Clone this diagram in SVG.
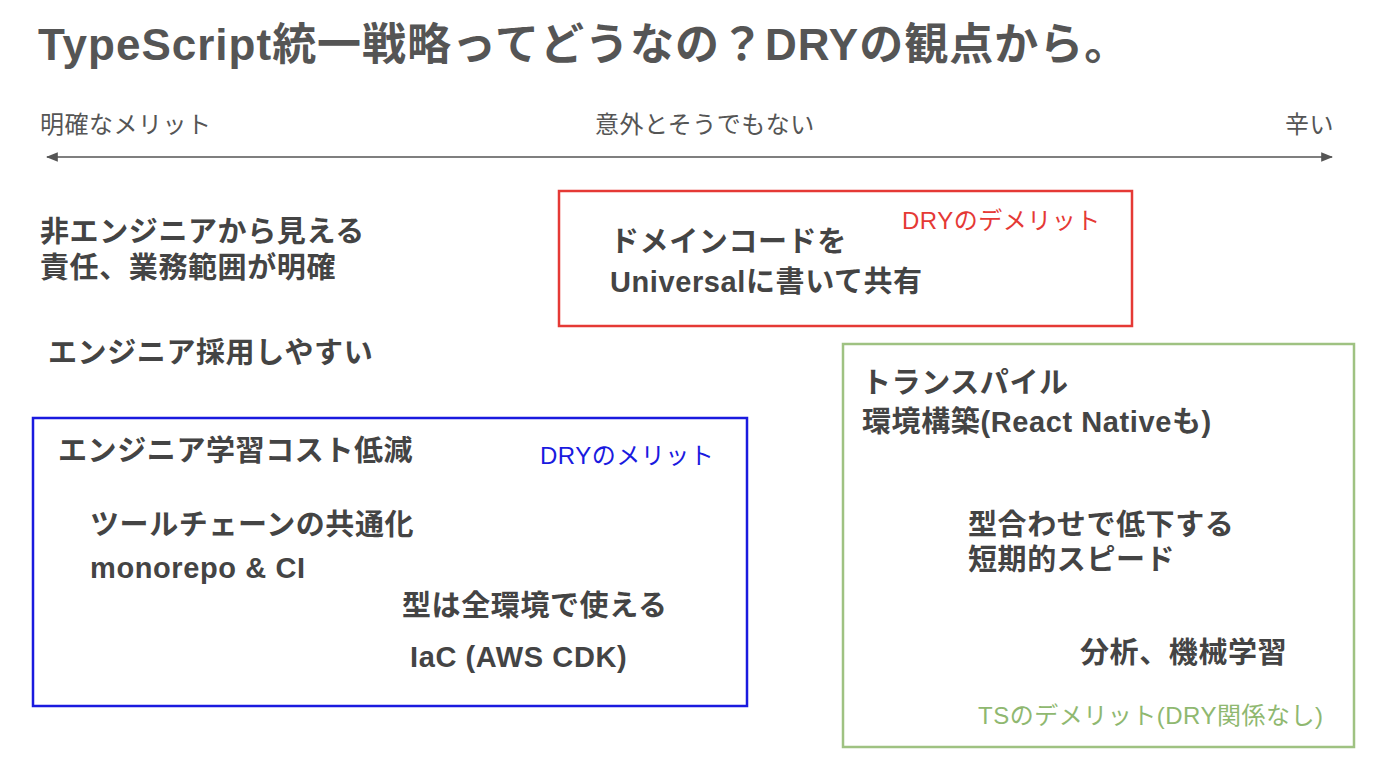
<svg xmlns="http://www.w3.org/2000/svg" width="1400" height="775" viewBox="0 0 1400 775">
<defs>
<style>
.t{font-family:"Liberation Sans","Noto Sans CJK JP",sans-serif;fill:#444;font-weight:bold;font-size:29px;letter-spacing:0.6px}
.s{font-family:"Liberation Sans","Noto Sans CJK JP",sans-serif;fill:#555;font-size:24px;letter-spacing:0.5px}
.box{fill:none;stroke-width:2.5}
</style>
<marker id="ah" viewBox="0 0 10 10" refX="9" refY="5" markerWidth="8" markerHeight="8" orient="auto-start-reverse"><path d="M0,1 L10,5 L0,9 Z" fill="#555"/></marker>
</defs>
<rect width="1400" height="775" fill="#fff"/>
<text x="38" y="60" class="t" style="font-size:44px;fill:#555;letter-spacing:1px">TypeScript統一戦略ってどうなの？DRYの観点から。</text>
<g id="axis">
<line x1="47" y1="157" x2="1332" y2="157" stroke="#555" stroke-width="1.5" marker-start="url(#ah)" marker-end="url(#ah)"/>
<text x="40" y="133" class="s">明確なメリット</text>
<text x="595" y="133" class="s">意外とそうでもない</text>
<text x="1285" y="133" class="s">辛い</text>
</g>
<g id="red">
<rect x="559" y="191" width="573" height="135" class="box" stroke="#e53935"/>
<text x="902" y="229" class="s" style="fill:#e53935">DRYのデメリット</text>
<text x="610" y="252" class="t">ドメインコードを</text>
<text x="610" y="292" class="t">Universalに書いて共有</text>
</g>
<g id="free">
<text x="40" y="242" class="t">非エンジニアから見える</text>
<text x="40" y="278" class="t">責任、業務範囲が明確</text>
<text x="48" y="363" class="t">エンジニア採用しやすい</text>
</g>
<g id="green">
<rect x="843" y="344" width="511" height="403" class="box" stroke="#9fc282"/>
<text x="862" y="393" class="t">トランスパイル</text>
<text x="862" y="432" class="t">環境構築(React Nativeも)</text>
<text x="968" y="535" class="t">型合わせで低下する</text>
<text x="968" y="570" class="t">短期的スピード</text>
<text x="1080" y="663" class="t">分析、機械学習</text>
<text x="978" y="724" class="s" style="fill:#8fb870">TSのデメリット(DRY関係なし)</text>
</g>
<g id="blue">
<rect x="33" y="418" width="714" height="288" class="box" stroke="#1a1adf"/>
<text x="58" y="461" class="t">エンジニア学習コスト低減</text>
<text x="540" y="464" class="s" style="fill:#1a1adf">DRYのメリット</text>
<text x="90" y="535" class="t">ツールチェーンの共通化</text>
<text x="90" y="578" class="t">monorepo &amp; CI</text>
<text x="402" y="616" class="t">型は全環境で使える</text>
<text x="410" y="667" class="t">IaC (AWS CDK)</text>
</g>
</svg>
